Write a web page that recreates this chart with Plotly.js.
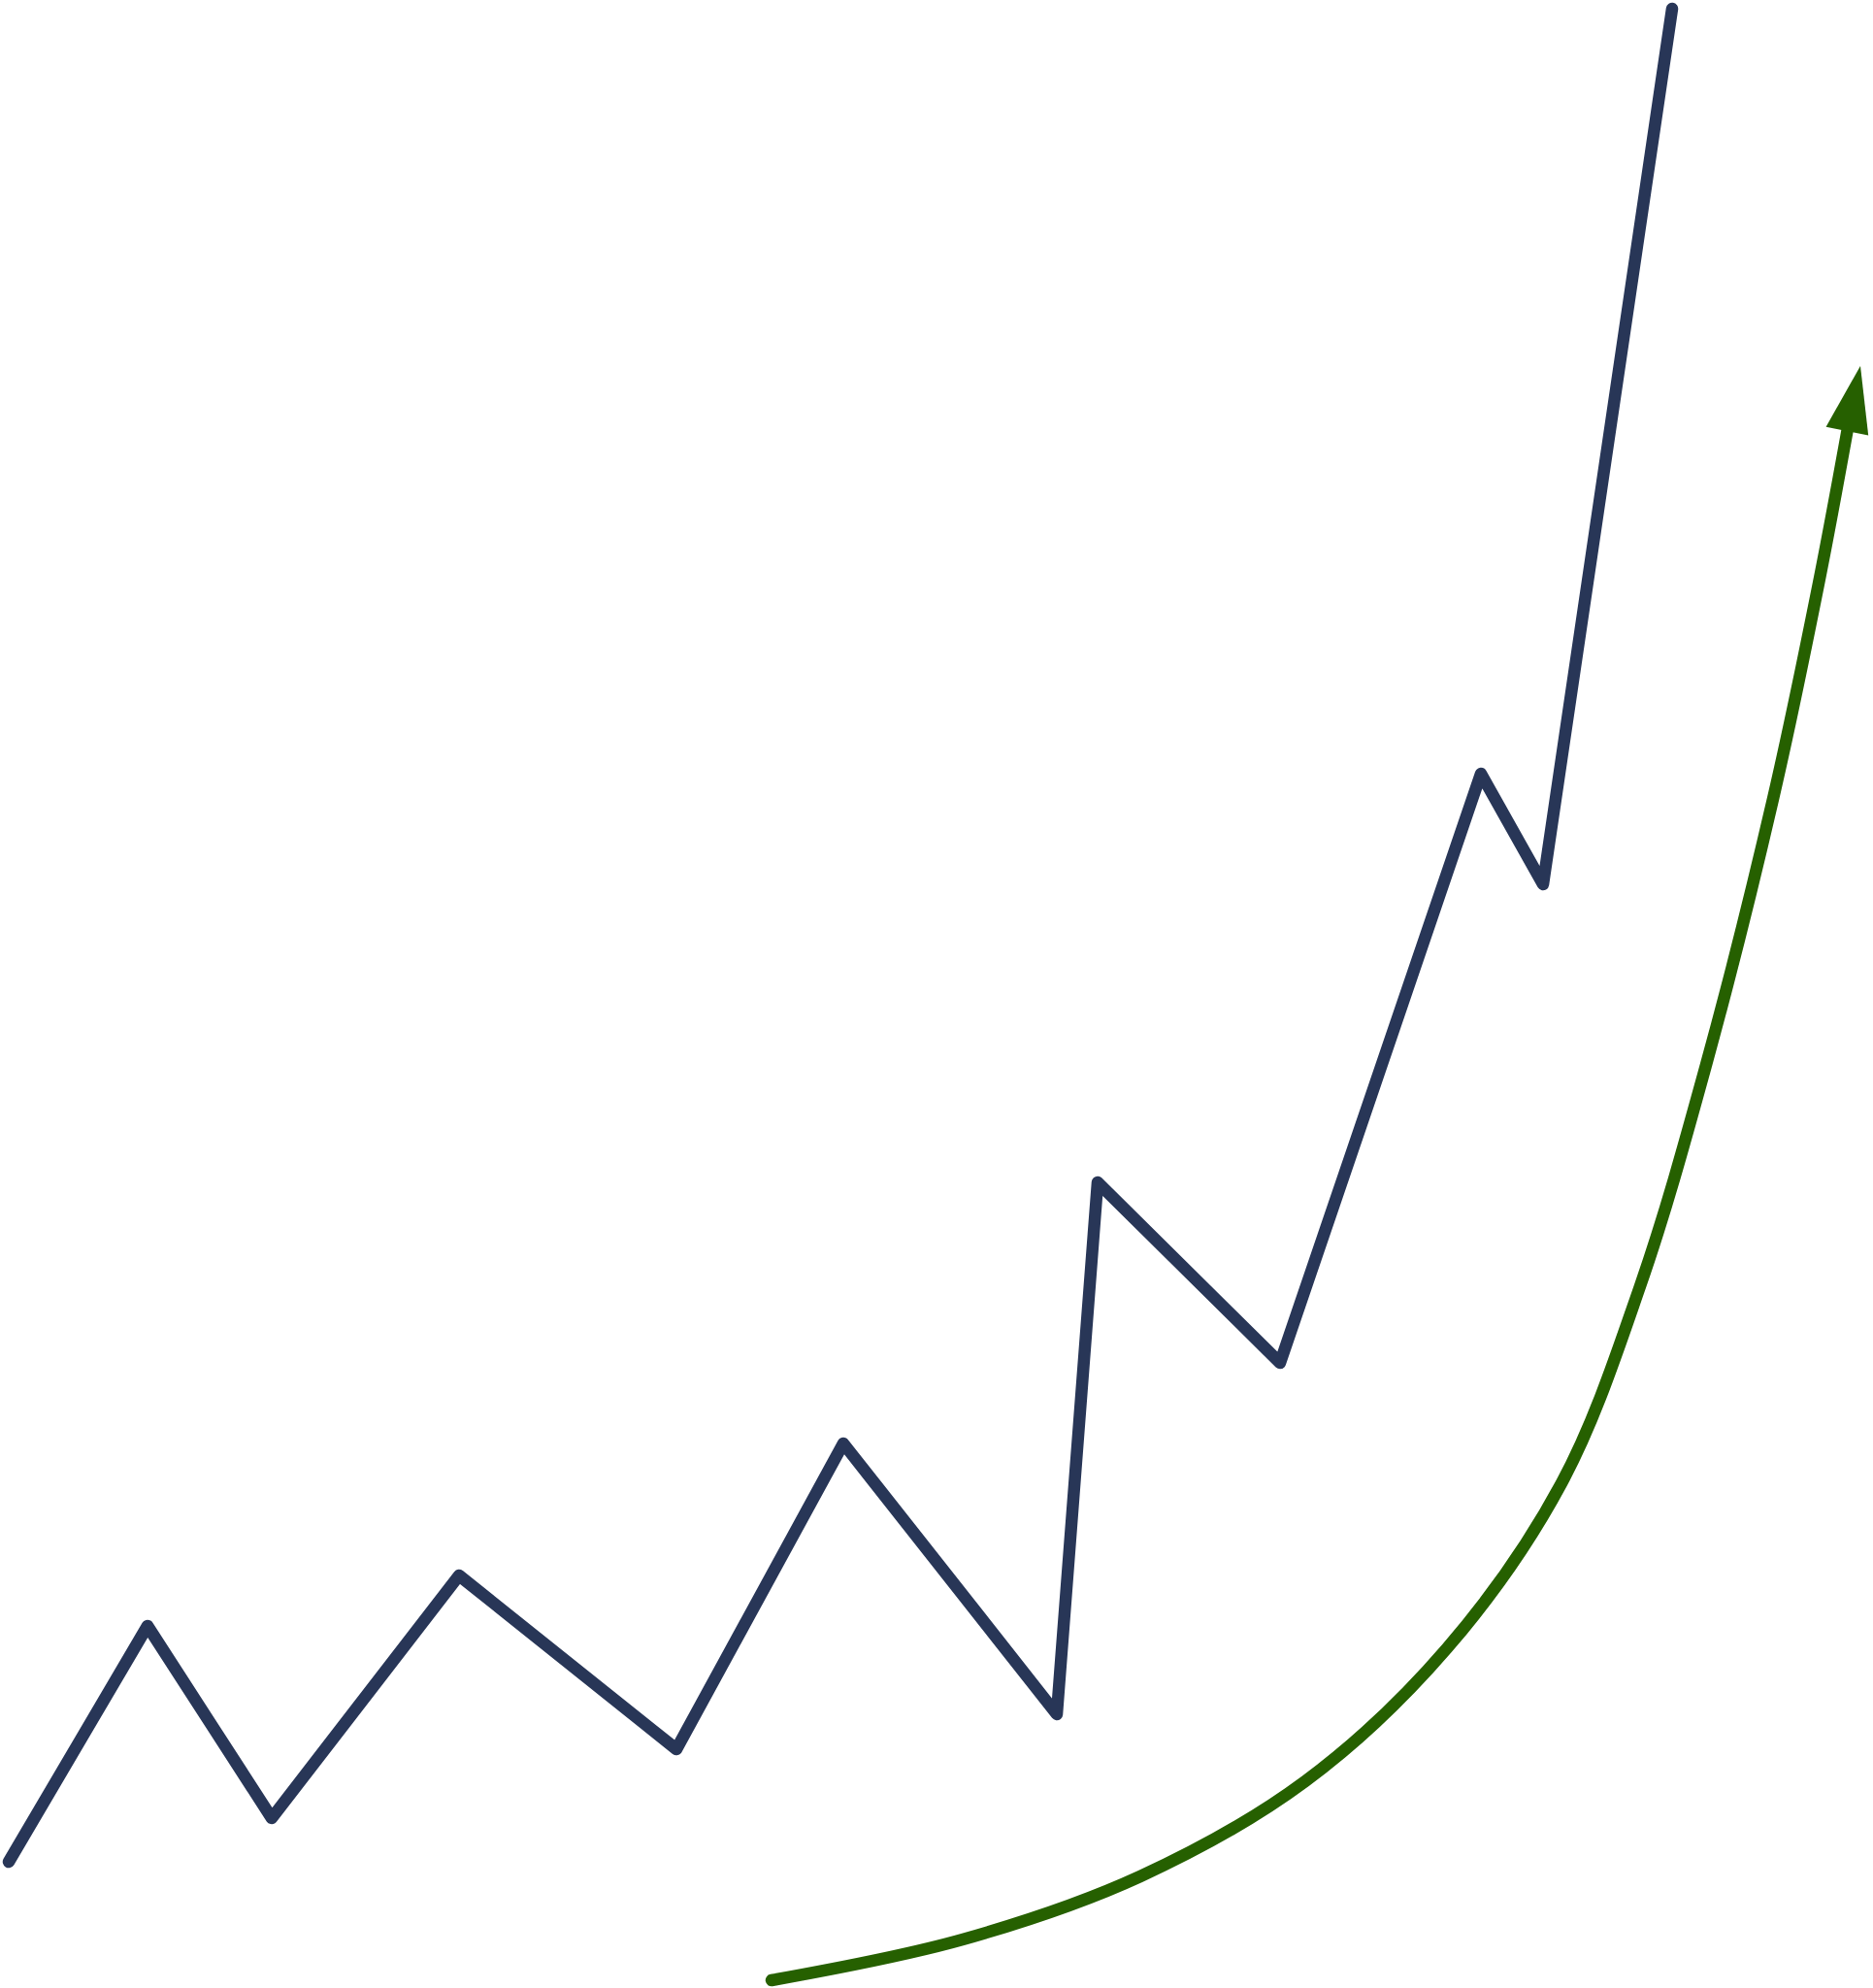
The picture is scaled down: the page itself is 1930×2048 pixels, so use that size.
<!DOCTYPE html>
<html>
<head>
<meta charset="utf-8">
<script src="https://cdn.plot.ly/plotly-3.0.1.min.js"></script>
<style>
html,body{margin:0;padding:0;background:#ffffff;}
#chart{width:1930px;height:2048px;}
.js-line{stroke-linecap:round;stroke-linejoin:round;}
</style>
</head>
<body>
<div id="chart"></div>
<script>
// Zig-zag series (x position, value)
const zigX = [9, 152, 280, 473, 697, 869, 1089, 1131, 1319, 1526, 1590, 1723];
const zigY = [130, 373, 175, 425, 246, 561, 282, 830, 644, 1251, 1137, 2039];

// Smooth trend curve (x position, value), ending at the arrow base
const trendX = [795, 992, 1175, 1345, 1491, 1609, 1690, 1758, 1827, 1874, 1904];
const trendY = [8, 50, 115, 213, 350, 520, 723, 951, 1225, 1447, 1607];

// Arrow head: base and tip
const arrowX = [1904, 1917];
const arrowY = [1607, 1671];

const navy = '#283657';
const green = '#266000';

const data = [
  {
    type: 'scatter', mode: 'lines',
    x: zigX, y: zigY,
    line: {color: navy, width: 12.5, shape: 'linear'},
    hoverinfo: 'skip'
  },
  {
    type: 'scatter', mode: 'lines',
    x: trendX, y: trendY,
    line: {color: green, width: 12.5, shape: 'spline', smoothing: 1},
    hoverinfo: 'skip'
  },
  {
    type: 'scatter', mode: 'markers',
    x: arrowX, y: arrowY,
    marker: {symbol: 'arrow', angleref: 'previous', size: [0, 72], color: green, opacity: 1, line: {width: 0}},
    hoverinfo: 'skip'
  }
];

const layout = {
  width: 1930, height: 2048,
  margin: {l: 0, r: 0, t: 0, b: 0, pad: 0},
  paper_bgcolor: '#ffffff', plot_bgcolor: '#ffffff',
  showlegend: false,
  xaxis: {range: [0, 1930], visible: false, fixedrange: true},
  yaxis: {range: [0, 2048], visible: false, fixedrange: true}
};

Plotly.newPlot('chart', data, layout, {staticPlot: true, displayModeBar: false});
</script>
</body>
</html>
